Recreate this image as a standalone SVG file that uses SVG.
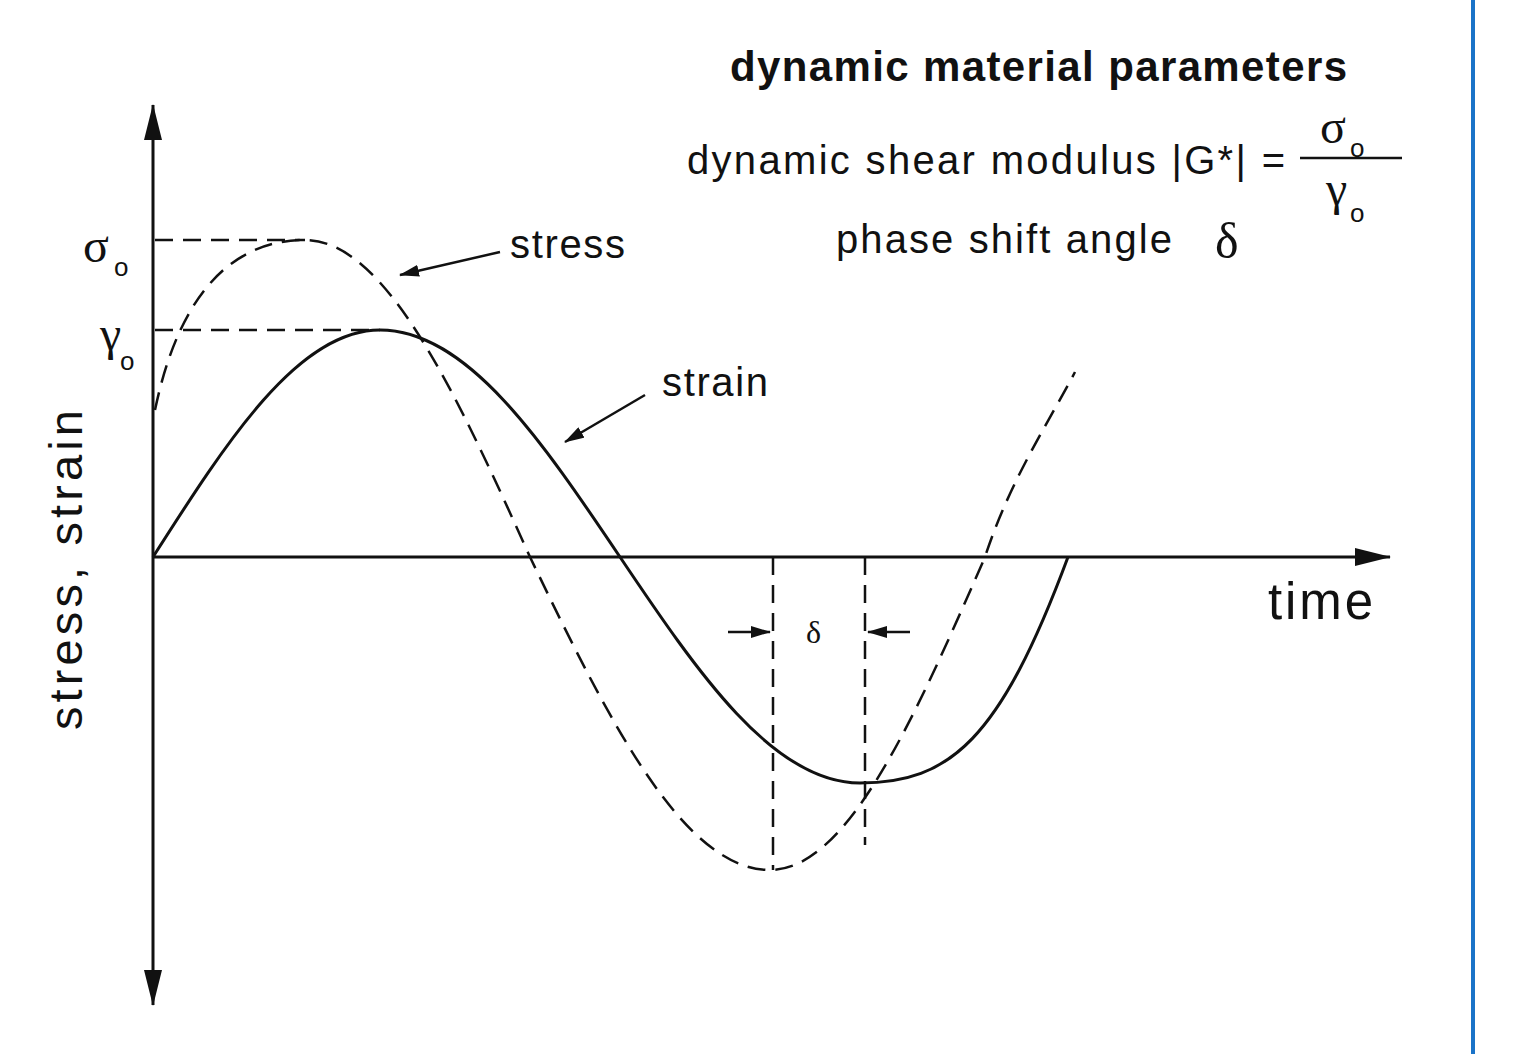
<svg xmlns="http://www.w3.org/2000/svg" width="1514" height="1054" viewBox="0 0 1514 1054">
<style>
.t{font-family:"Liberation Sans",Arial,sans-serif;fill:#111}
.g{font-family:"Liberation Serif","Times New Roman",serif;fill:#111}
.ln{stroke:#111;stroke-width:3;fill:none}
.ds{stroke:#111;stroke-width:2.5;fill:none;stroke-dasharray:18 10}
</style>
<defs>
<marker id="ab" markerWidth="36" markerHeight="18" refX="35" refY="9" orient="auto" markerUnits="userSpaceOnUse" viewBox="0 0 36 18"><path d="M0,0 L36,9 L0,18 Z" fill="#111"/></marker>
<marker id="as" markerWidth="20" markerHeight="12" refX="19" refY="6" orient="auto" markerUnits="userSpaceOnUse" viewBox="0 0 20 12"><path d="M0,0 L20,6 L0,12 Z" fill="#111"/></marker>
</defs>
<rect width="1514" height="1054" fill="#fff"/>
<rect x="1471" y="0" width="4" height="1054" fill="#1a73c8"/>
<g id="axes">
<line class="ln" x1="153" y1="557" x2="153" y2="105" marker-end="url(#ab)"/>
<line class="ln" x1="153" y1="557" x2="153" y2="1005" marker-end="url(#ab)"/>
<line class="ln" x1="153" y1="557" x2="1390" y2="557" marker-end="url(#ab)"/>
</g>
<g id="strain"><path class="ln" d="M153,557 C227,441 298,330 380,330 C467,330 542,441 620,557 C698,673 773,783 860,783 C950,783 1000,740 1068,557"/></g>
<g id="stress"><path class="ds" d="M155,410 C180,290 235,240 305,240 C386,240 457,395 530,557 C608,719 683,870 770,870 C848,870 915,717 985,557 C1010,480 1050,420 1075,372"/></g>
<g id="guides">
<line class="ds" x1="155" y1="240" x2="305" y2="240"/>
<line class="ds" x1="155" y1="330" x2="380" y2="330"/>
<line class="ds" x1="773" y1="557" x2="773" y2="870"/>
<line class="ds" x1="865" y1="557" x2="865" y2="845"/>
</g>
<g id="connectors">
<line stroke="#111" stroke-width="2.5" x1="728" y1="632" x2="770" y2="632" marker-end="url(#as)"/>
<line stroke="#111" stroke-width="2.5" x1="910" y1="632" x2="868" y2="632" marker-end="url(#as)"/>
<line stroke="#111" stroke-width="2.5" x1="500" y1="252" x2="400" y2="275" marker-end="url(#as)"/>
<line stroke="#111" stroke-width="2.5" x1="645" y1="395" x2="565" y2="442" marker-end="url(#as)"/>
</g>
<g id="labels">
<text class="g" x="83" y="262" font-size="48">σ</text><text class="t" x="114" y="276" font-size="26">o</text>
<text class="g" x="100" y="350" font-size="48">γ</text><text class="t" x="120" y="370" font-size="26">o</text>
<text class="t" x="510" y="258" font-size="40" textLength="115">stress</text>
<text class="t" x="662" y="396" font-size="40" textLength="106">strain</text>
<text class="t" x="1268" y="619" font-size="51" textLength="105">time</text>
<text class="g" x="806" y="643" font-size="32">δ</text>
<text class="t" font-size="47" transform="translate(82,570) rotate(-90)" text-anchor="middle" textLength="320">stress, strain</text>
<text class="t" x="730" y="81" font-size="42" font-weight="bold" textLength="617">dynamic material parameters</text>
<text class="t" x="687" y="174" font-size="40" textLength="598">dynamic shear modulus |G*| =</text>
<text class="g" x="1320" y="143" font-size="48">σ</text><text class="t" x="1350" y="157" font-size="26">o</text>
<line stroke="#111" stroke-width="2.5" x1="1300" y1="158" x2="1402" y2="158"/>
<text class="g" x="1326" y="205" font-size="48">γ</text><text class="t" x="1350" y="222" font-size="26">o</text>
<text class="t" x="836" y="253" font-size="40" textLength="336">phase shift angle</text>
<text class="g" x="1215" y="258" font-size="50">δ</text>
</g>
</svg>
